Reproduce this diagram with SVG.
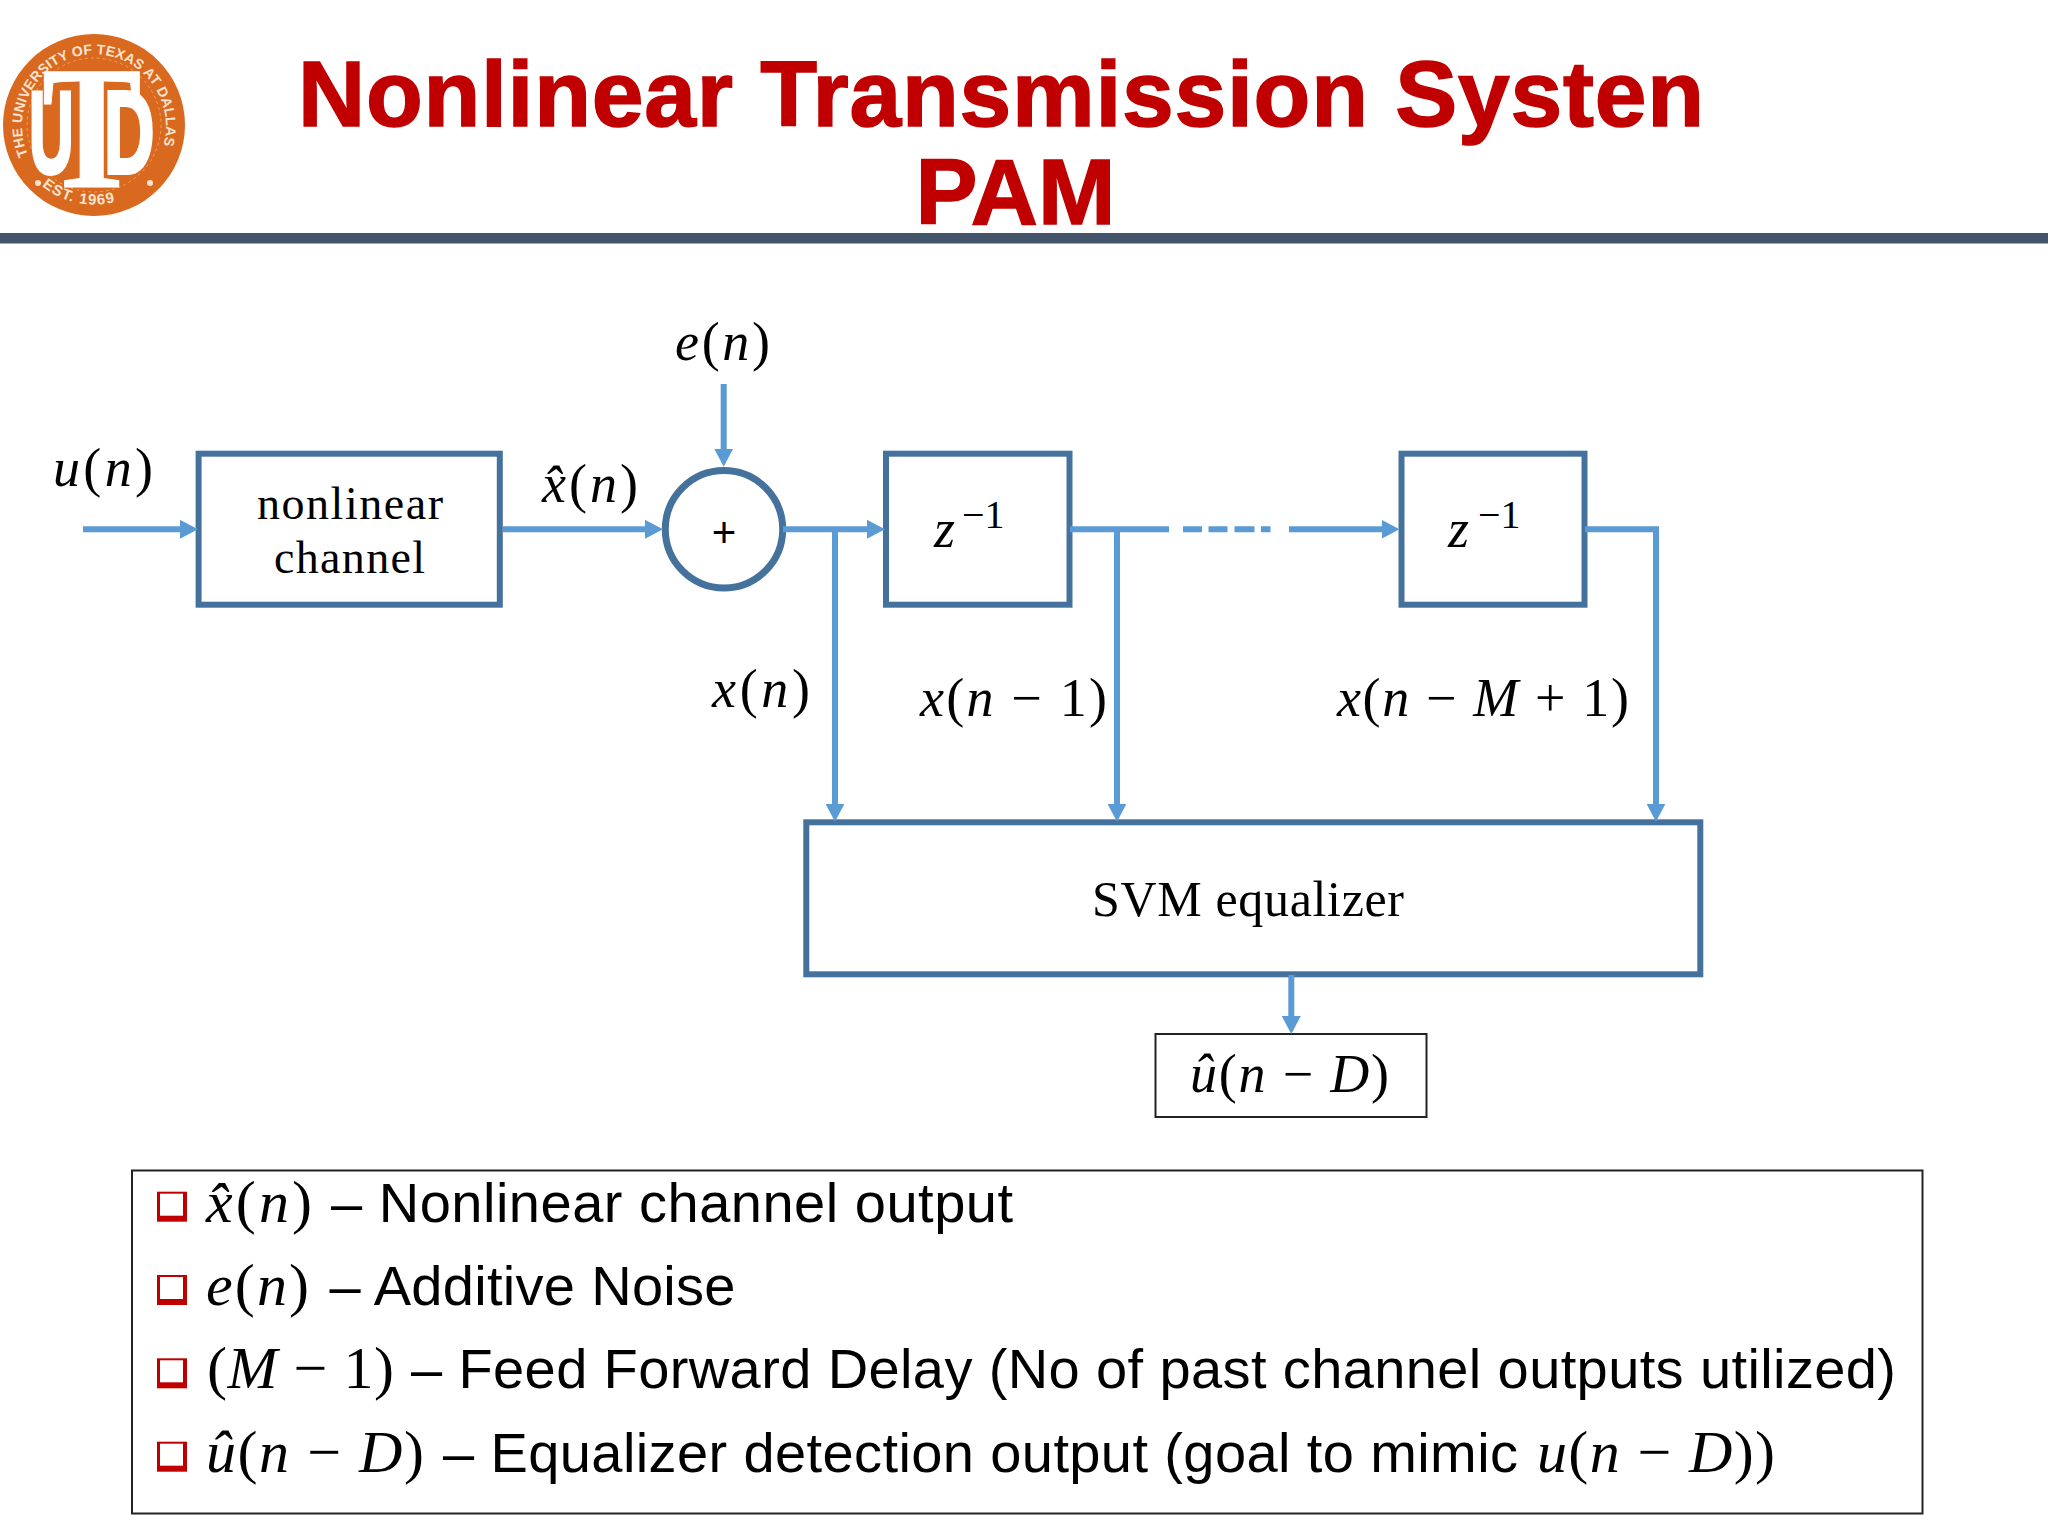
<svg xmlns="http://www.w3.org/2000/svg" width="2048" height="1536" viewBox="0 0 2048 1536">
<style>
.box{fill:#fff;stroke:#44729d;stroke-width:6}
.thin{fill:#fff;stroke:#222;stroke-width:2}
.wire{fill:none;stroke:#5b9bd5;stroke-width:6}
.arrow{marker-end:url(#head)}
.s{font-family:"Liberation Serif",serif;fill:#000}
.i{font-style:italic}
.t{font-family:"Liberation Sans",Arial,sans-serif;font-size:56px;fill:#000}
.title{font-family:"Liberation Sans",Arial,sans-serif;font-weight:700;font-size:93px;fill:#c00000;stroke:#c00000;stroke-width:1.5}
.bo{fill:#c00000}
.bi{fill:#fff}
.ring{font-family:"Liberation Sans",Arial,sans-serif;font-weight:700;fill:#fbe3cf}
.logoL{font-family:"Liberation Sans",Arial,sans-serif;font-weight:700;fill:#fff;stroke:#fff;stroke-width:2.5}
</style>
<defs>
<marker id="head" markerUnits="userSpaceOnUse" markerWidth="18" markerHeight="19" refX="3" refY="9.5" orient="auto"><path d="M0 0L18 9.5L0 19z" fill="#5b9bd5"/></marker>
<path id="ringTop" d="M28 155A72 72 0 1 1 160 155"/>
<path id="ringBot" d="M42 186A82 82 0 0 0 146 186"/>
</defs>
<rect width="2048" height="1536" fill="#fff"/>
<g id="logo">
<circle cx="94" cy="125" r="91" fill="#d9691e"/>
<circle cx="94" cy="125" r="67" fill="none" stroke="#f0a060" stroke-width="1" stroke-dasharray="3 3"/>
<text class="ring" font-size="14" letter-spacing=".1"><textPath href="#ringTop">THE UNIVERSITY OF TEXAS AT DALLAS</textPath></text>
<text class="ring" font-size="15" letter-spacing="1"><textPath href="#ringBot">EST. 1969</textPath></text>
<circle cx="38" cy="183" r="3" fill="#fbe3cf"/>
<circle cx="150" cy="183" r="3" fill="#fbe3cf"/>
<text class="logoL" transform="translate(29 173) scale(.86 1.62)" font-size="72">U</text>
<text class="logoL" transform="translate(104 173) scale(.97 1.62)" font-size="72">D</text>
<text class="logoL" transform="translate(42 187) scale(.9 1.06)" font-size="166" style="font-family:'Liberation Serif',serif;stroke-width:1">T</text>
</g>
<g id="title">
<text class="title" x="298" y="126" textLength="1406">Nonlinear Transmission Systen</text>
<text class="title" x="1015.5" y="224" text-anchor="middle">PAM</text>
<rect x="0" y="233" width="2048" height="10.5" fill="#44546a"/>
</g>
<g id="channel"><rect class="box" x="198.6" y="453.7" width="301.2" height="151"/>
<text class="s" x="257" y="519" font-size="46" textLength="186">nonlinear</text>
<text class="s" x="274" y="573" font-size="46" textLength="151">channel</text></g>
<g id="sum"><circle class="box" cx="724" cy="529.3" r="58.7" style="stroke-width:7"/>
<text x="724" y="547" text-anchor="middle" font-size="42" style="font-family:'Liberation Sans',sans-serif">+</text></g>
<g id="delay1"><rect class="box" x="886" y="453.7" width="183.5" height="151"/>
<text class="s i" x="934" y="547" font-size="54">z</text>
<text class="s" x="962" y="528" font-size="40">−1</text></g>
<g id="delay2"><rect class="box" x="1401.5" y="453.7" width="183" height="151"/>
<text class="s i" x="1448" y="547" font-size="54">z</text>
<text class="s" x="1478" y="528" font-size="40">−1</text></g>
<g id="svm"><rect class="box" x="806.3" y="822.3" width="894" height="152"/>
<text class="s" x="1092" y="916" font-size="50" textLength="312">SVM equalizer</text></g>
<g id="output"><rect class="thin" x="1155.5" y="1034" width="271" height="83"/>
<text class="s" x="1190" y="1092" font-size="54" textLength="199"><tspan class="i">û</tspan>(<tspan class="i">n</tspan> − <tspan class="i">D</tspan>)</text></g>
<g id="labels">
<text class="s" x="53" y="486" font-size="54" textLength="100"><tspan class="i">u</tspan>(<tspan class="i">n</tspan>)</text>
<text class="s" x="542" y="502" font-size="54" textLength="96"><tspan class="i">x̂</tspan>(<tspan class="i">n</tspan>)</text>
<text class="s" x="675" y="360" font-size="54" textLength="95"><tspan class="i">e</tspan>(<tspan class="i">n</tspan>)</text>
<text class="s" x="712" y="707" font-size="54" textLength="98"><tspan class="i">x</tspan>(<tspan class="i">n</tspan>)</text>
<text class="s" x="920" y="716" font-size="54" textLength="187"><tspan class="i">x</tspan>(<tspan class="i">n</tspan> − 1)</text>
<text class="s" x="1337" y="716" font-size="54" textLength="292"><tspan class="i">x</tspan>(<tspan class="i">n</tspan> − <tspan class="i">M</tspan> + 1)</text>
</g>
<g id="connectors">
<path class="wire arrow" d="M83 529.3H183"/>
<path class="wire arrow" d="M503 529.3H648"/>
<path class="wire arrow" d="M723.7 384V451.7"/>
<path class="wire arrow" d="M783 529.3H870"/>
<path class="wire arrow" d="M835 529.3V806.7"/>
<path class="wire" d="M1070 529.3H1169"/>
<path class="wire" d="M1183 529.3H1202M1208.5 529.3H1227.5M1234.5 529.3H1254.5M1261 529.3H1270.5"/>
<path class="wire arrow" d="M1289 529.3H1384.5"/>
<path class="wire arrow" d="M1117 529.3V806.7"/>
<path class="wire arrow" d="M1585 529.3H1656V806.7"/>
<path class="wire arrow" d="M1291.3 975V1019"/>
</g>
<g id="legend">
<rect class="thin" x="132" y="1170.5" width="1790.5" height="343" fill="none" style="fill:none"/>
<g id="b1"><rect class="bo" x="157" y="1191.7" width="30" height="30"/><rect class="bi" x="160" y="1193.7" width="23" height="22"/></g>
<g id="b2"><rect class="bo" x="157" y="1275" width="30" height="30"/><rect class="bi" x="160" y="1277" width="23" height="22"/></g>
<g id="b3"><rect class="bo" x="157" y="1358.3" width="30" height="30"/><rect class="bi" x="160" y="1360.3" width="23" height="22"/></g>
<g id="b4"><rect class="bo" x="157" y="1441.7" width="30" height="30"/><rect class="bi" x="160" y="1443.7" width="23" height="22"/></g>
<text class="s" x="206" y="1222" font-size="60" textLength="106"><tspan class="i">x̂</tspan>(<tspan class="i">n</tspan>)</text>
<text class="t" x="331" y="1222" textLength="682">– Nonlinear channel output</text>
<text class="s" x="206" y="1305" font-size="60" textLength="103"><tspan class="i">e</tspan>(<tspan class="i">n</tspan>)</text>
<text class="t" x="329.5" y="1305" textLength="406">– Additive Noise</text>
<text class="s" x="207" y="1388" font-size="60" textLength="187">(<tspan class="i">M</tspan> − 1)</text>
<text class="t" x="411" y="1388" textLength="1485">– Feed Forward Delay (No of past channel outputs utilized)</text>
<text class="s" x="206" y="1472" font-size="60" textLength="218"><tspan class="i">û</tspan>(<tspan class="i">n</tspan> − <tspan class="i">D</tspan>)</text>
<text class="t" x="443" y="1472" textLength="1075">– Equalizer detection output (goal to mimic</text>
<text class="s" x="1537" y="1472" font-size="60" textLength="238"><tspan class="i">u</tspan>(<tspan class="i">n</tspan> − <tspan class="i">D</tspan>))</text>
</g>
</svg>
